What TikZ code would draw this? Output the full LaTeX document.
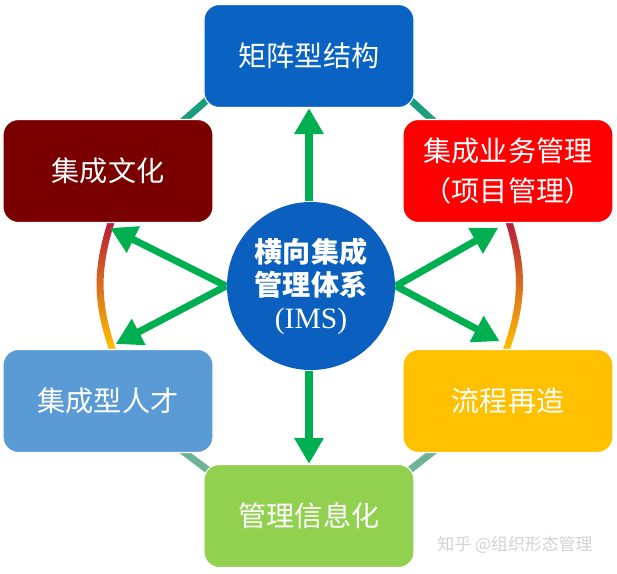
\documentclass[tikz,border=0pt]{standalone}
\usepackage{fontspec}
\setmainfont{Noto Sans CJK SC}
\newfontfamily\serifl{Liberation Serif}
\usetikzlibrary{arrows.meta, calc, backgrounds}
\definecolor{cblue}{HTML}{0A63C2}
\definecolor{chub}{HTML}{0B60BF}
\definecolor{cmaroon}{HTML}{7A0000}
\definecolor{cred}{HTML}{FF0000}
\definecolor{clblue}{HTML}{5B9BD5}
\definecolor{cgold}{HTML}{FFC000}
\definecolor{clime}{HTML}{92D050}
\definecolor{cgreen}{HTML}{00B050}
\definecolor{cteal}{HTML}{1A9C7E}
\definecolor{cpale}{HTML}{6DB497}
\definecolor{carc}{HTML}{B81C3A}
\tikzset{
  every picture/.style={line width=1.2pt},
  box/.style={draw=white, fill=#1, line width=0.8pt, rounded corners=11pt, align=center, text=white,
    minimum width=5.25cm, minimum height=2.575cm, font=\fontsize{20pt}{28.5pt}\selectfont},
  box/.default=cblue,
  hub/.style={circle, fill=chub, text=white, minimum size=4.2cm, inner sep=0pt, align=center,
    font=\bfseries\fontsize{20pt}{23.5pt}\selectfont},
  arrow/.style={-{Triangle[length=0.65cm, width=0.7cm]}, draw=cgreen, line width=5pt},
  link/.style={draw=#1, line width=5pt},
  wm/.style={text=gray!35, font=\fontsize{12pt}{14pt}\selectfont},
}

\begin{document}
\begin{tikzpicture}[x=0.025cm, y=-0.025cm]
  \useasboundingbox (0,0) rectangle (617,573);
  \node[box=cblue] (top) at (309,56) {矩阵型结构};
  \node[box=cmaroon] (lt) at (108,171) {集成文化};
  \node[box=cred] (rt) at (508,171) {集成业务管理\\（项目管理）};
  \node[box=clblue] (lb) at (108,401) {集成型人才};
  \node[box=cgold] (rb) at (508,401) {流程再造};
  \node[box=clime] (bot) at (309,516) {管理信息化};
  \node[hub] (ims) at (311,286) {横向集成\\管理体系\\{\serifl\mdseries\fontsize{21pt}{23.5pt}\selectfont (IMS)}};
  \node[wm] (zh) at (515,545) {知乎 @组织形态管理};
  \begin{pgfonlayer}{background}
    % ring pieces between the boxes
    \draw[link=cteal] ($(lt.north east)+(-43,13)$) -- ($(top.south west)+(15,-18)$);
    \draw[link=cteal] ($(rt.north west)+(43,13)$) -- ($(top.south east)+(-15,-18)$);
    \draw[link=cpale] ($(lb.south east)+(-43,-11)$) -- ($(bot.north west)+(15,14)$);
    \draw[link=cpale] ($(rb.south west)+(43,-11)$) -- ($(bot.north east)+(-15,14)$);
    \shade[top color=carc, middle color=cred, bottom color=cgold]
      ([xshift=-0.5pt]lt.south) to[bend right=18] ([xshift=0.5pt]lb.north)
      -- ([xshift=5.5pt]lb.north) to[bend left=18] ([xshift=4.5pt]lt.south) -- cycle;
    \shade[top color=carc, middle color=cred, bottom color=cgold]
      ([xshift=-1.5pt]rt.south) to[bend left=18] ([xshift=-3.5pt]rb.north)
      -- ([xshift=1.5pt]rb.north) to[bend right=18] ([xshift=3.5pt]rt.south) -- cycle;
    % arrows out of the hub
    \draw[arrow] (ims.north -| top.south) -- (top.south);
    \draw[arrow] (ims.south -| bot.north) -- (bot.north);
    \draw[arrow] (ims.west) -- ([xshift=1.5pt,yshift=-3.5pt]lt.south);
    \draw[arrow] (ims.west) -- ([xshift=5.5pt,yshift=3.5pt]lb.north);
    \draw[arrow] (ims.east) -- ([xshift=-7pt,yshift=-3.5pt]rt.south);
    \draw[arrow] (ims.east) -- ([xshift=-6pt,yshift=5.5pt]rb.north);
  \end{pgfonlayer}
\end{tikzpicture}
\end{document}
